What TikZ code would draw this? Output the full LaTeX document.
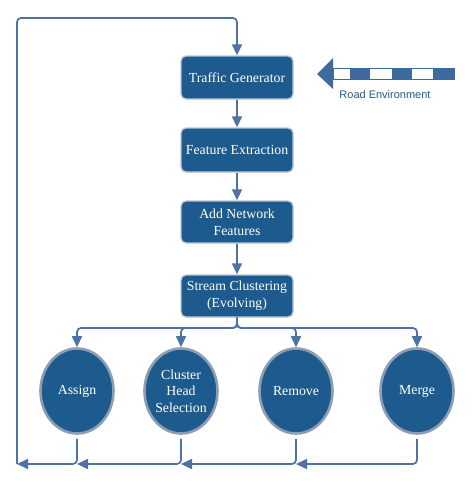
\documentclass[tikz,border=0pt]{standalone}
\usepackage{fontspec}
\setmainfont{Liberation Serif}
\newfontfamily\roadfont{Liberation Sans}
\usetikzlibrary{arrows.meta,shapes.geometric}
\definecolor{boxblue}{HTML}{1D5B8E}
\definecolor{lineblue}{HTML}{4E73A2}
\definecolor{rimgray}{HTML}{8E9EB2}
\definecolor{stripeblue}{HTML}{3F6A9E}
\begin{document}
\begin{tikzpicture}[x=1pt,y=-1pt,
  stepbox/.style={draw=rimgray!60!white, line width=1.3pt, fill=boxblue, rounded corners=5pt,
    minimum width=112pt, text=white, font=\fontsize{13.8}{16.7}\selectfont, align=center, inner sep=0pt},
  ellnode/.style={ellipse, draw=rimgray, line width=2.6pt, fill=boxblue, minimum width=73pt,
    minimum height=85pt, text=white, font=\fontsize{13.8}{16.7}\selectfont, align=center, inner sep=0pt},
  conn/.style={draw=lineblue, line width=1.7pt, rounded corners=4pt},
  tip/.style={-{Triangle[width=10pt,length=11pt]}}
]
\useasboundingbox (0,0) rectangle (474,482);
% boxes
\node[stepbox, minimum height=43pt] (tg) at (237,77.5) {Traffic Generator};
\node[stepbox, minimum height=44pt] (fe) at (237,150) {Feature Extraction};
\node[stepbox, minimum height=42pt] (an) at (237,222) {Add Network\\Features};
\node[stepbox, minimum height=42pt] (sc) at (237,296) {Stream Clustering\\(Evolving)};
% ellipses
\node[ellnode] (as) at (77,391) {Assign};
\node[ellnode] (ch) at (181,391) {Cluster\\Head\\Selection};
\node[ellnode] (rm) at (296,391) {Remove};
\node[ellnode] (mg) at (417,391) {Merge};
% vertical chain
\draw[conn,tip] (tg) -- (fe);
\draw[conn,tip] (fe) -- (an);
\draw[conn,tip] (an) -- (sc);
% distribution
\coordinate (split) at (237,328);
\draw[conn,tip] (sc.south) -- (split) -| (as.north);
\draw[conn,tip] (sc.south) -- (split) -| (ch.north);
\draw[conn,tip] (sc.south) -- (split) -| (rm.north);
\draw[conn,tip] (sc.south) -- (split) -| (mg.north);
% collection
\coordinate (bl) at (17,464);
\coordinate (tl) at (17,18);
\draw[conn,tip] ([yshift=-4pt]mg.south) |- (rm.south |- bl);
\draw[conn,tip] ([yshift=-4pt]rm.south) |- (ch.south |- bl);
\draw[conn,tip] ([yshift=-4pt]ch.south) |- (as.south |- bl);
\draw[conn,tip] ([yshift=-4pt]as.south) |- (bl);
\draw[conn,tip] (bl) -- (tl) -| (tg.north);
% road environment arrow
\coordinate (rtip) at (317,74);
\fill[stripeblue] (rtip) -- (333,58) -- (333,89) -- cycle;
\draw[stripeblue, line width=1pt, fill=white] (333,68) rectangle (454,79);
\fill[stripeblue] (350,68) rectangle (370,79);
\fill[stripeblue] (392,68) rectangle (412,79);
\fill[stripeblue] (433,68) rectangle (454,79);
\node[text=boxblue, font=\roadfont\fontsize{11}{13}\selectfont, inner sep=0pt] (road) at (385,95) {Road Environment};
\end{tikzpicture}
\end{document}
